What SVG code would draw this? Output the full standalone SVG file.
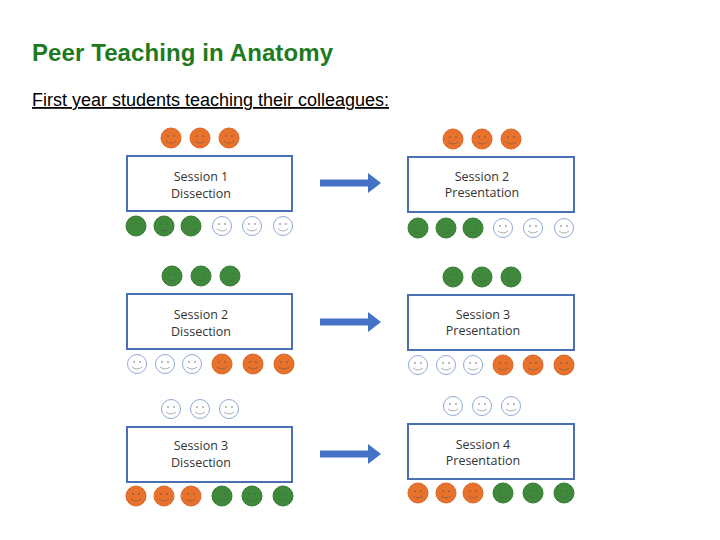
<svg xmlns="http://www.w3.org/2000/svg" width="720" height="540" viewBox="0 0 720 540" xmlns:xlink="http://www.w3.org/1999/xlink">
<style>
.box{fill:#fff;stroke:#4a6fb5;stroke-width:2}
.lbl{font-family:"Open Sans","Liberation Sans",sans-serif;font-size:12.5px;fill:#333;text-anchor:middle}
.o{fill:#e8712b;stroke:#d9662a}
.g{fill:#3e8a3a;stroke:#357a33}
.w{fill:#fff;stroke:#8fa8d8}
.arr{fill:#4472c4}
</style>
<defs>
<g id="feat"><circle cx="-3" cy="-2" r="0.9" fill="#555" opacity="0.6"/><circle cx="3" cy="-2" r="0.9" fill="#555" opacity="0.6"/><path d="M-5 3 Q0 7 5 3" fill="none" stroke="#555" stroke-width="0.8" opacity="0.6"/></g>
<path id="arrow" d="M0 -3.5H48V-10L61 0L48 10V3.5H0z"/>
</defs>
<rect width="720" height="540" fill="#fff"/>
<text x="32" y="61" font-family="Liberation Sans,Arial,sans-serif" font-size="24" font-weight="bold" fill="#1e7a1e" textLength="301">Peer Teaching in Anatomy</text>
<text x="32" y="106" font-family="Liberation Sans,Arial,sans-serif" font-size="18" fill="#000" text-decoration="underline" textLength="357">First year students teaching their colleagues:</text>
<g id="connectors" class="arr">
<use xlink:href="#arrow" x="320" y="183"/>
<use xlink:href="#arrow" x="320" y="322"/>
<use xlink:href="#arrow" x="320" y="454"/>
</g>
<g id="n1"><rect class="box" x="127" y="156" width="165" height="55"/><text class="lbl" x="201" y="181">Session 1</text><text class="lbl" x="201" y="198">Dissection</text></g>
<g id="n2"><rect class="box" x="408" y="157" width="166" height="55"/><text class="lbl" x="482" y="181">Session 2</text><text class="lbl" x="482" y="197">Presentation</text></g>
<g id="n3"><rect class="box" x="127" y="294" width="165" height="55"/><text class="lbl" x="201" y="319">Session 2</text><text class="lbl" x="201" y="336">Dissection</text></g>
<g id="n4"><rect class="box" x="408" y="295" width="166" height="55"/><text class="lbl" x="483" y="319">Session 3</text><text class="lbl" x="483" y="335">Presentation</text></g>
<g id="n5"><rect class="box" x="127" y="427" width="165" height="55"/><text class="lbl" x="201" y="450">Session 3</text><text class="lbl" x="201" y="467">Dissection</text></g>
<g id="n6"><rect class="box" x="408" y="424" width="166" height="55"/><text class="lbl" x="483" y="449">Session 4</text><text class="lbl" x="483" y="465">Presentation</text></g>
<g id="faces">
<g class="o"><circle cx="171" cy="138" r="10"/><circle cx="200" cy="138" r="10"/><circle cx="229" cy="138" r="10"/></g>
<g class="g"><circle cx="136" cy="226" r="10"/><circle cx="164" cy="226" r="10"/><circle cx="191" cy="226" r="10"/></g>
<g class="w"><circle cx="222" cy="226" r="9.5"/><circle cx="252" cy="226" r="9.5"/><circle cx="283" cy="226" r="9.5"/></g>
<g class="o"><circle cx="453" cy="139" r="10"/><circle cx="482" cy="139" r="10"/><circle cx="511" cy="139" r="10"/></g>
<g class="g"><circle cx="418" cy="228" r="10"/><circle cx="446" cy="228" r="10"/><circle cx="473" cy="228" r="10"/></g>
<g class="w"><circle cx="503" cy="228" r="9.5"/><circle cx="533" cy="228" r="9.5"/><circle cx="564" cy="228" r="9.5"/></g>
<g class="g"><circle cx="172" cy="276" r="10"/><circle cx="201" cy="276" r="10"/><circle cx="230" cy="276" r="10"/></g>
<g class="w"><circle cx="137" cy="364" r="9.5"/><circle cx="165" cy="364" r="9.5"/><circle cx="192" cy="364" r="9.5"/></g>
<g class="o"><circle cx="222" cy="364" r="10"/><circle cx="253" cy="364" r="10"/><circle cx="284" cy="364" r="10"/></g>
<g class="g"><circle cx="453" cy="277" r="10"/><circle cx="482" cy="277" r="10"/><circle cx="511" cy="277" r="10"/></g>
<g class="w"><circle cx="418" cy="365" r="9.5"/><circle cx="446" cy="365" r="9.5"/><circle cx="473" cy="365" r="9.5"/></g>
<g class="o"><circle cx="503" cy="365" r="10"/><circle cx="533" cy="365" r="10"/><circle cx="564" cy="365" r="10"/></g>
<g class="w"><circle cx="171" cy="409" r="9.5"/><circle cx="200" cy="409" r="9.5"/><circle cx="229" cy="409" r="9.5"/></g>
<g class="o"><circle cx="136" cy="496" r="10"/><circle cx="164" cy="496" r="10"/><circle cx="191" cy="496" r="10"/></g>
<g class="g"><circle cx="222" cy="496" r="10"/><circle cx="252" cy="496" r="10"/><circle cx="283" cy="496" r="10"/></g>
<g class="w"><circle cx="453" cy="406" r="9.5"/><circle cx="482" cy="406" r="9.5"/><circle cx="511" cy="406" r="9.5"/></g>
<g class="o"><circle cx="418" cy="493" r="10"/><circle cx="446" cy="493" r="10"/><circle cx="473" cy="493" r="10"/></g>
<g class="g"><circle cx="503" cy="493" r="10"/><circle cx="533" cy="493" r="10"/><circle cx="564" cy="493" r="10"/></g>
</g>
<g id="featgrid">
<use xlink:href="#feat" x="171" y="138"/><use xlink:href="#feat" x="200" y="138"/><use xlink:href="#feat" x="229" y="138"/>
<use xlink:href="#feat" x="136" y="226"/><use xlink:href="#feat" x="164" y="226"/><use xlink:href="#feat" x="191" y="226"/><use xlink:href="#feat" x="222" y="226"/><use xlink:href="#feat" x="252" y="226"/><use xlink:href="#feat" x="283" y="226"/>
<use xlink:href="#feat" x="453" y="139"/><use xlink:href="#feat" x="482" y="139"/><use xlink:href="#feat" x="511" y="139"/>
<use xlink:href="#feat" x="418" y="228"/><use xlink:href="#feat" x="446" y="228"/><use xlink:href="#feat" x="473" y="228"/><use xlink:href="#feat" x="503" y="228"/><use xlink:href="#feat" x="533" y="228"/><use xlink:href="#feat" x="564" y="228"/>
<use xlink:href="#feat" x="172" y="276"/><use xlink:href="#feat" x="201" y="276"/><use xlink:href="#feat" x="230" y="276"/>
<use xlink:href="#feat" x="137" y="364"/><use xlink:href="#feat" x="165" y="364"/><use xlink:href="#feat" x="192" y="364"/><use xlink:href="#feat" x="222" y="364"/><use xlink:href="#feat" x="253" y="364"/><use xlink:href="#feat" x="284" y="364"/>
<use xlink:href="#feat" x="453" y="277"/><use xlink:href="#feat" x="482" y="277"/><use xlink:href="#feat" x="511" y="277"/>
<use xlink:href="#feat" x="418" y="365"/><use xlink:href="#feat" x="446" y="365"/><use xlink:href="#feat" x="473" y="365"/><use xlink:href="#feat" x="503" y="365"/><use xlink:href="#feat" x="533" y="365"/><use xlink:href="#feat" x="564" y="365"/>
<use xlink:href="#feat" x="171" y="409"/><use xlink:href="#feat" x="200" y="409"/><use xlink:href="#feat" x="229" y="409"/>
<use xlink:href="#feat" x="136" y="496"/><use xlink:href="#feat" x="164" y="496"/><use xlink:href="#feat" x="191" y="496"/><use xlink:href="#feat" x="222" y="496"/><use xlink:href="#feat" x="252" y="496"/><use xlink:href="#feat" x="283" y="496"/>
<use xlink:href="#feat" x="453" y="406"/><use xlink:href="#feat" x="482" y="406"/><use xlink:href="#feat" x="511" y="406"/>
<use xlink:href="#feat" x="418" y="493"/><use xlink:href="#feat" x="446" y="493"/><use xlink:href="#feat" x="473" y="493"/><use xlink:href="#feat" x="503" y="493"/><use xlink:href="#feat" x="533" y="493"/><use xlink:href="#feat" x="564" y="493"/>
</g>
</svg>
